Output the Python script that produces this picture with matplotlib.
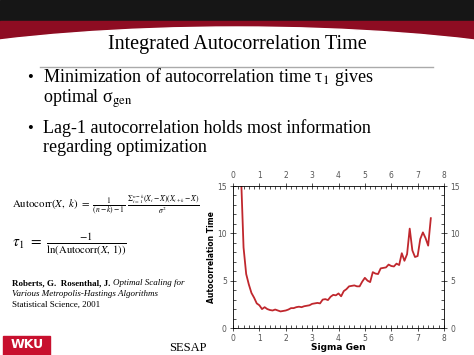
import matplotlib.pyplot as plt
import numpy as np
from matplotlib.patches import Rectangle, Ellipse
from matplotlib.ticker import MultipleLocator

plt.rcParams['mathtext.fontset'] = 'stix'

# integrated autocorrelation time vs proposal width
sigma_gen = [0.3, 0.4, 0.5, 0.6, 0.7, 0.8, 0.9, 1.0, 1.1, 1.2, 1.3, 1.4, 1.5, 1.6,
             1.7, 1.8, 1.9, 2.0, 2.1, 2.2, 2.3, 2.4, 2.5, 2.6, 2.7, 2.8, 2.9, 3.0,
             3.1, 3.2, 3.3, 3.4, 3.5, 3.6, 3.7, 3.8, 3.9, 4.0, 4.1, 4.2, 4.3, 4.4,
             4.5, 4.6, 4.7, 4.8, 4.9, 5.0, 5.1, 5.2, 5.3, 5.4, 5.5, 5.6, 5.7, 5.8,
             5.9, 6.0, 6.1, 6.2, 6.3, 6.4, 6.5, 6.6, 6.7, 6.8, 6.9, 7.0, 7.1, 7.2,
             7.3, 7.4, 7.5]
autocorr_time = [16.5, 8.5, 5.7, 4.6, 3.7, 3.2, 2.6, 2.4, 2.0, 2.2, 2.0, 1.9, 1.85, 1.95,
                 1.85, 1.75, 1.8, 1.85, 1.95, 2.1, 2.1, 2.2, 2.25, 2.2, 2.3, 2.35, 2.4, 2.55,
                 2.6, 2.65, 2.6, 3.0, 3.05, 2.95, 3.3, 3.5, 3.45, 3.65, 3.35, 3.9, 4.1, 4.4,
                 4.45, 4.5, 4.4, 4.4, 4.9, 5.3, 5.0, 4.85, 5.9, 5.75, 5.7, 6.3, 6.35, 6.4,
                 6.7, 6.55, 6.5, 6.8, 6.65, 7.9, 7.1, 7.8, 10.5, 8.2, 7.5, 7.6, 9.4, 10.1,
                 9.5, 8.7, 11.6]

W, H = 474, 355
fig = plt.figure(figsize=(W / 100, H / 100), dpi=100)
bg = fig.add_axes([0, 0, 1, 1])
bg.set_xlim(0, W)
bg.set_ylim(H, 0)
bg.axis('off')

# slide header bands
bg.add_patch(Rectangle((0, 0), W, 22, color='#161616', zorder=1))
bg.add_patch(Rectangle((0, 21), W, 22, color='#8e0c22', zorder=1))
bg.add_patch(Ellipse((W / 2, 105), 860, 156, color='white', zorder=2))

serif = 'Liberation Serif'
bg.text(237, 45, 'Integrated Autocorrelation Time', family=serif, fontsize=14.5,
        ha='center', va='center', zorder=3)
bg.plot([40, 433], [67, 67], color='#aaaaaa', lw=1, zorder=3)

bullets = [(77, '•', 'Minimization of autocorrelation time τ$_1$ gives'),
           (99, '', r'optimal σ$_{\mathrm{gen}}$'),
           (128, '•', 'Lag-1 autocorrelation holds most information'),
           (147, '', 'regarding optimization')]
for y, b, txt in bullets:
    if b:
        bg.text(30, y + 1, b, family=serif, fontsize=12, ha='center', va='center', zorder=3)
    bg.text(43, y, txt, family=serif, fontsize=13, ha='left', va='center', zorder=3)

bg.text(12, 205, r'$\mathrm{Autocorr}(X,\ k)\ =\ \frac{1}{(n-k)-1}\ '
        r'\frac{\Sigma_{i=1}^{n-k}(X_i-\bar{X})(X_{i+k}-\bar{X})}{\sigma^2}$',
        fontsize=7.8, ha='left', va='center', zorder=3)
bg.text(12, 244, r'$\tau_1\ =\ \frac{-1}{\mathrm{ln(Autocorr}(X,\,1))}$',
        fontsize=11, ha='left', va='center', zorder=3)

bg.text(12, 283, 'Roberts, G.  Rosenthal, J.', family=serif, fontsize=6.5,
        fontweight='bold', ha='left', va='center', zorder=3)
bg.text(113, 283, 'Optimal Scaling for', family=serif, fontsize=6.5,
        style='italic', ha='left', va='center', zorder=3)
bg.text(12, 294, 'Various Metropolis-Hastings Algorithms', family=serif, fontsize=6.5,
        style='italic', ha='left', va='center', zorder=3)
bg.text(12, 305, 'Statistical Science, 2001', family=serif, fontsize=6.5,
        ha='left', va='center', zorder=3)

# logo and footer
bg.add_patch(Rectangle((3, 336), 47, 19, color='#c8102e', zorder=3))
bg.text(27, 345, 'WKU', color='white', fontsize=9, fontweight='bold',
        ha='center', va='center', zorder=4)
bg.text(188, 348, 'SESAP', family=serif, fontsize=9, ha='center', va='center', zorder=3)

# chart
ax = fig.add_axes([233 / W, 1 - 328 / H, 211 / W, 142 / H])
ax.plot(sigma_gen, autocorr_time, color='#c0272d', lw=1.3, clip_on=True)
ax.set_xlim(0, 8)
ax.set_ylim(0, 15)
ax.xaxis.set_major_locator(MultipleLocator(1))
ax.xaxis.set_minor_locator(MultipleLocator(0.2))
ax.yaxis.set_major_locator(MultipleLocator(5))
ax.yaxis.set_minor_locator(MultipleLocator(1))
ax.tick_params(which='both', top=True, right=True, labeltop=True, labelright=True,
               labelsize=5.5, labelcolor='#555555', color='#333333', width=0.6)
ax.tick_params(which='major', direction='inout', length=5, pad=2)
ax.tick_params(which='minor', direction='in', length=2.5)
for s in ax.spines.values():
    s.set_linewidth(0.6)
ax.set_xlabel('Sigma Gen', fontsize=6.5, fontweight='bold', labelpad=0)
ax.set_ylabel('Autocorrelation Time', fontsize=5.5, fontweight='bold', labelpad=1)

fig.savefig('out.png', dpi=100)
